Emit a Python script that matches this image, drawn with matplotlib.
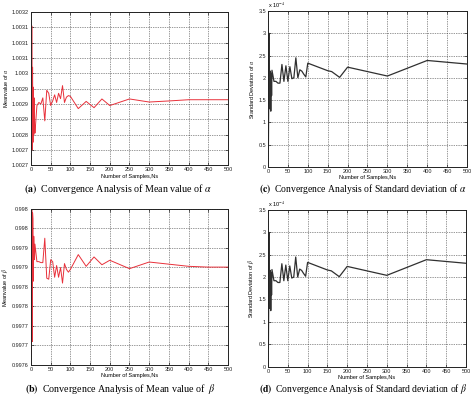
import matplotlib
matplotlib.use("Agg")
import matplotlib.pyplot as plt

# ---------------- data ----------------
ns_mean = [1, 2, 3, 4, 5, 6, 7, 8, 9, 10, 15, 20, 25, 30, 35, 40, 45, 50, 55, 60,
           65, 70, 75, 80, 85, 90, 95, 100, 120, 140, 160, 180, 200, 250, 300,
           350, 400, 450, 500]
mean_alpha = [1.002745, 1.003155, 1.00275, 1.00302, 1.002775, 1.002955, 1.0028,
              1.00292, 1.00283, 1.002805, 1.002895, 1.002905, 1.0029, 1.00292,
              1.002845, 1.002945, 1.002935, 1.002895, 1.00291, 1.00293,
              1.002905, 1.002935, 1.0029175, 1.00296, 1.002905, 1.0029225,
              1.0029275, 1.002925, 1.002885, 1.0029085, 1.002888, 1.0029165,
              1.002895, 1.0029165, 1.0029065, 1.00291, 1.002914, 1.002914,
              1.002914]
mean_beta = [0.997625, 0.998, 0.99766, 0.99799, 0.997975, 0.997815, 0.99793,
             0.99789, 0.99787, 0.99791, 0.997865, 0.997865, 0.9978625,
             0.9978625, 0.997925, 0.9978225, 0.99782, 0.99787, 0.997865,
             0.997825, 0.997855, 0.997825, 0.99785, 0.99781, 0.99786,
             0.997845, 0.997838, 0.997845, 0.997883, 0.997853, 0.997877,
             0.997857, 0.9978685, 0.997847, 0.997864, 0.9978585, 0.997853,
             0.997851, 0.997851]

ns_std = [1, 2, 3, 4, 5, 6, 7, 8, 9, 10, 15, 20, 25, 30, 35, 40, 45, 50, 55, 60,
          65, 70, 75, 80, 85, 90, 95, 100, 150, 160, 180, 200, 300, 400, 500]
# values in units of 1e-4
std_alpha = [0.4, 1.8, 3.0, 1.5, 1.3, 2.15, 1.25, 2.1, 1.6, 2.17, 1.92, 1.92,
             1.88, 1.88, 2.3, 1.92, 2.27, 1.92, 2.25, 1.98, 2.0, 2.45, 2.0,
             2.18, 2.15, 2.08, 2.02, 2.33, 2.16, 2.14, 2.01, 2.24, 2.04, 2.39,
             2.31]
std_beta = [0.4, 1.8, 3.0, 1.5, 1.3, 2.15, 1.25, 2.1, 1.6, 2.17, 1.92, 1.92,
            1.88, 1.88, 2.3, 1.92, 2.27, 1.92, 2.25, 1.98, 2.0, 2.45, 2.0,
            2.18, 2.15, 2.08, 2.02, 2.33, 2.16, 2.14, 2.01, 2.24, 2.04, 2.39,
            2.31]

x_ticks = [0, 50, 100, 150, 200, 250, 300, 350, 400, 450, 500]
a_ticks = [1.0027, 1.00275, 1.0028, 1.00285, 1.0029, 1.00295, 1.003, 1.00305,
           1.0031, 1.00315, 1.0032]
a_labels = ["1.0027", "1.0027", "1.0028", "1.0029", "1.0029", "1.0029", "1.003",
            "1.0031", "1.0031", "1.0031", "1.0032"]
b_ticks = [0.9976, 0.99765, 0.9977, 0.99775, 0.9978, 0.99785, 0.9979,
           0.99795, 0.998]
b_labels = ["0.9976", "0.9977", "0.9977", "0.9978", "0.9978", "0.9979",
            "0.9979", "0.998", "0.998"]
s_ticks = [0, 0.5, 1, 1.5, 2, 2.5, 3, 3.5]
s_labels = ["0", "0.5", "1", "1.5", "2", "2.5", "3", "3.5"]

captions = [r"$\mathbf{(a)}$  Convergence Analysis of Mean value of $\alpha$",
            r"$\mathbf{(b)}$  Convergence Analysis of Mean value of  $\beta$",
            r"$\mathbf{(c)}$  Convergence Analysis of Standard deviation of $\alpha$",
            r"$\mathbf{(d)}$  Convergence Analysis of Standard deviation of $\beta$"]

# ---------------- style ----------------
plt.rcParams["font.family"] = ["Liberation Sans", "DejaVu Sans"]
plt.rcParams["mathtext.fontset"] = "stix"

fig = plt.figure(figsize=(4.74, 3.97), dpi=100)
fig.patch.set_facecolor("white")

RED = "#e8303a"
DARK = "#303030"

def style(ax, yticks, ylabels, ylim, ylabel):
    ax.set_xlim(0, 500)
    ax.set_ylim(*ylim)
    ax.set_xticks(x_ticks)
    ax.set_xticklabels([str(v) for v in x_ticks])
    ax.set_yticks(yticks)
    ax.set_yticklabels(ylabels)
    ax.tick_params(direction="in", length=2, width=0.5, labelsize=4,
                   top=True, right=True, pad=1.5, colors="#222222")
    ax.grid(True, linestyle=(0, (1, 1.5)), color="#333333", linewidth=0.5)
    for s in ax.spines.values():
        s.set_linewidth(0.7)
        s.set_color("#222222")
    ax.set_xlabel("Number of Samples,Ns", fontsize=4, labelpad=1)
    ax.set_ylabel(ylabel, fontsize=4, labelpad=1.5)

# (a)
ax_a = fig.add_axes([0.0654, 0.5836, 0.4156, 0.386])
ax_a.plot(ns_mean, mean_alpha, color=RED, lw=0.7)
style(ax_a, a_ticks, a_labels, (1.0027, 1.0032), r"Meanvalue of $\alpha$")

# (c)
ax_c = fig.add_axes([0.5654, 0.580, 0.4198, 0.392])
ax_c.plot(ns_std, std_alpha, color=DARK, lw=0.9)
style(ax_c, s_ticks, s_labels, (0, 3.5), r"Standard Deviation of $\alpha$")
ax_c.text(0.0, 1.005, r"x 10$^{-4}$", transform=ax_c.transAxes, fontsize=4,
          ha="left", va="bottom")

# (b)
ax_b = fig.add_axes([0.0654, 0.0806, 0.4156, 0.393])
ax_b.plot(ns_mean, mean_beta, color=RED, lw=0.7)
style(ax_b, b_ticks, b_labels, (0.9976, 0.998), r"Meanvalue of $\beta$")

# (d)
ax_d = fig.add_axes([0.5654, 0.0768, 0.4177, 0.394])
ax_d.plot(ns_std, std_beta, color=DARK, lw=0.9)
style(ax_d, s_ticks, s_labels, (0, 3.5), r"Standard Deviation of $\beta$")
ax_d.text(0.0, 1.005, r"x 10$^{-4}$", transform=ax_d.transAxes, fontsize=4,
          ha="left", va="bottom")

cap_pos = [(0.249, 0.5227), (0.253, 0.019), (0.766, 0.5227), (0.766, 0.019)]
cap_size = [7.2, 7.2, 6.9, 6.9]
for (cx, cy), txt, fs in zip(cap_pos, captions, cap_size):
    fig.text(cx, cy, txt, ha="center", va="center", fontsize=fs,
             family=["Liberation Serif", "DejaVu Serif"])

fig.savefig("out.png", dpi=100, facecolor="white")
